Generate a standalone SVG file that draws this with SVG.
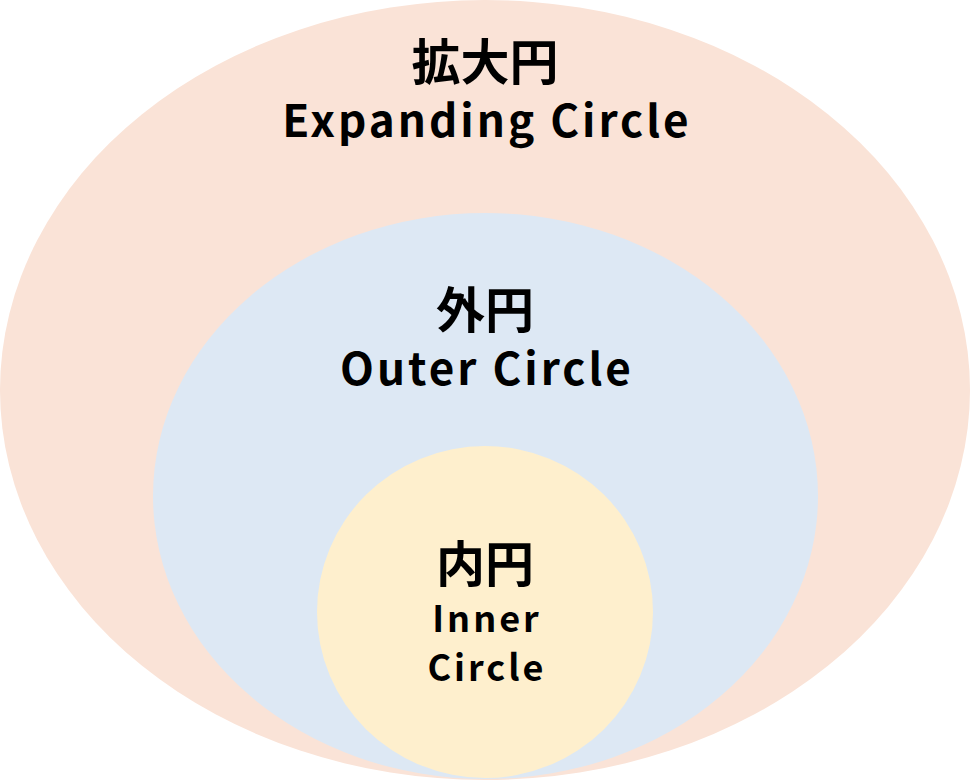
<svg xmlns="http://www.w3.org/2000/svg" width="970" height="780" viewBox="0 0 970 780">
<style>
.t{font-family:"Noto Sans CJK JP","Noto Sans",sans-serif;font-weight:bold;fill:#000;text-anchor:middle}
.e{letter-spacing:3px}
</style>
<g id="expanding">
<ellipse cx="485" cy="390" rx="485" ry="390" fill="#FAE3D7"/>
<text class="t" x="485" y="80" font-size="49">拡大円</text>
<text class="t e" x="487" y="137" font-size="44">Expanding Circle</text>
</g>
<g id="outer">
<ellipse cx="485.5" cy="496" rx="332.5" ry="283" fill="#DDE8F4"/>
<text class="t" x="485" y="328" font-size="49">外円</text>
<text class="t e" x="487" y="385" font-size="44">Outer Circle</text>
</g>
<g id="inner">
<ellipse cx="485" cy="612" rx="168" ry="166" fill="#FEEFCD"/>
<text class="t" x="485" y="582" font-size="49">内円</text>
<text class="t e" x="487" y="632" font-size="36">Inner</text>
<text class="t e" x="487" y="681" font-size="36">Circle</text>
</g>
<g id="connectors"/>
</svg>
